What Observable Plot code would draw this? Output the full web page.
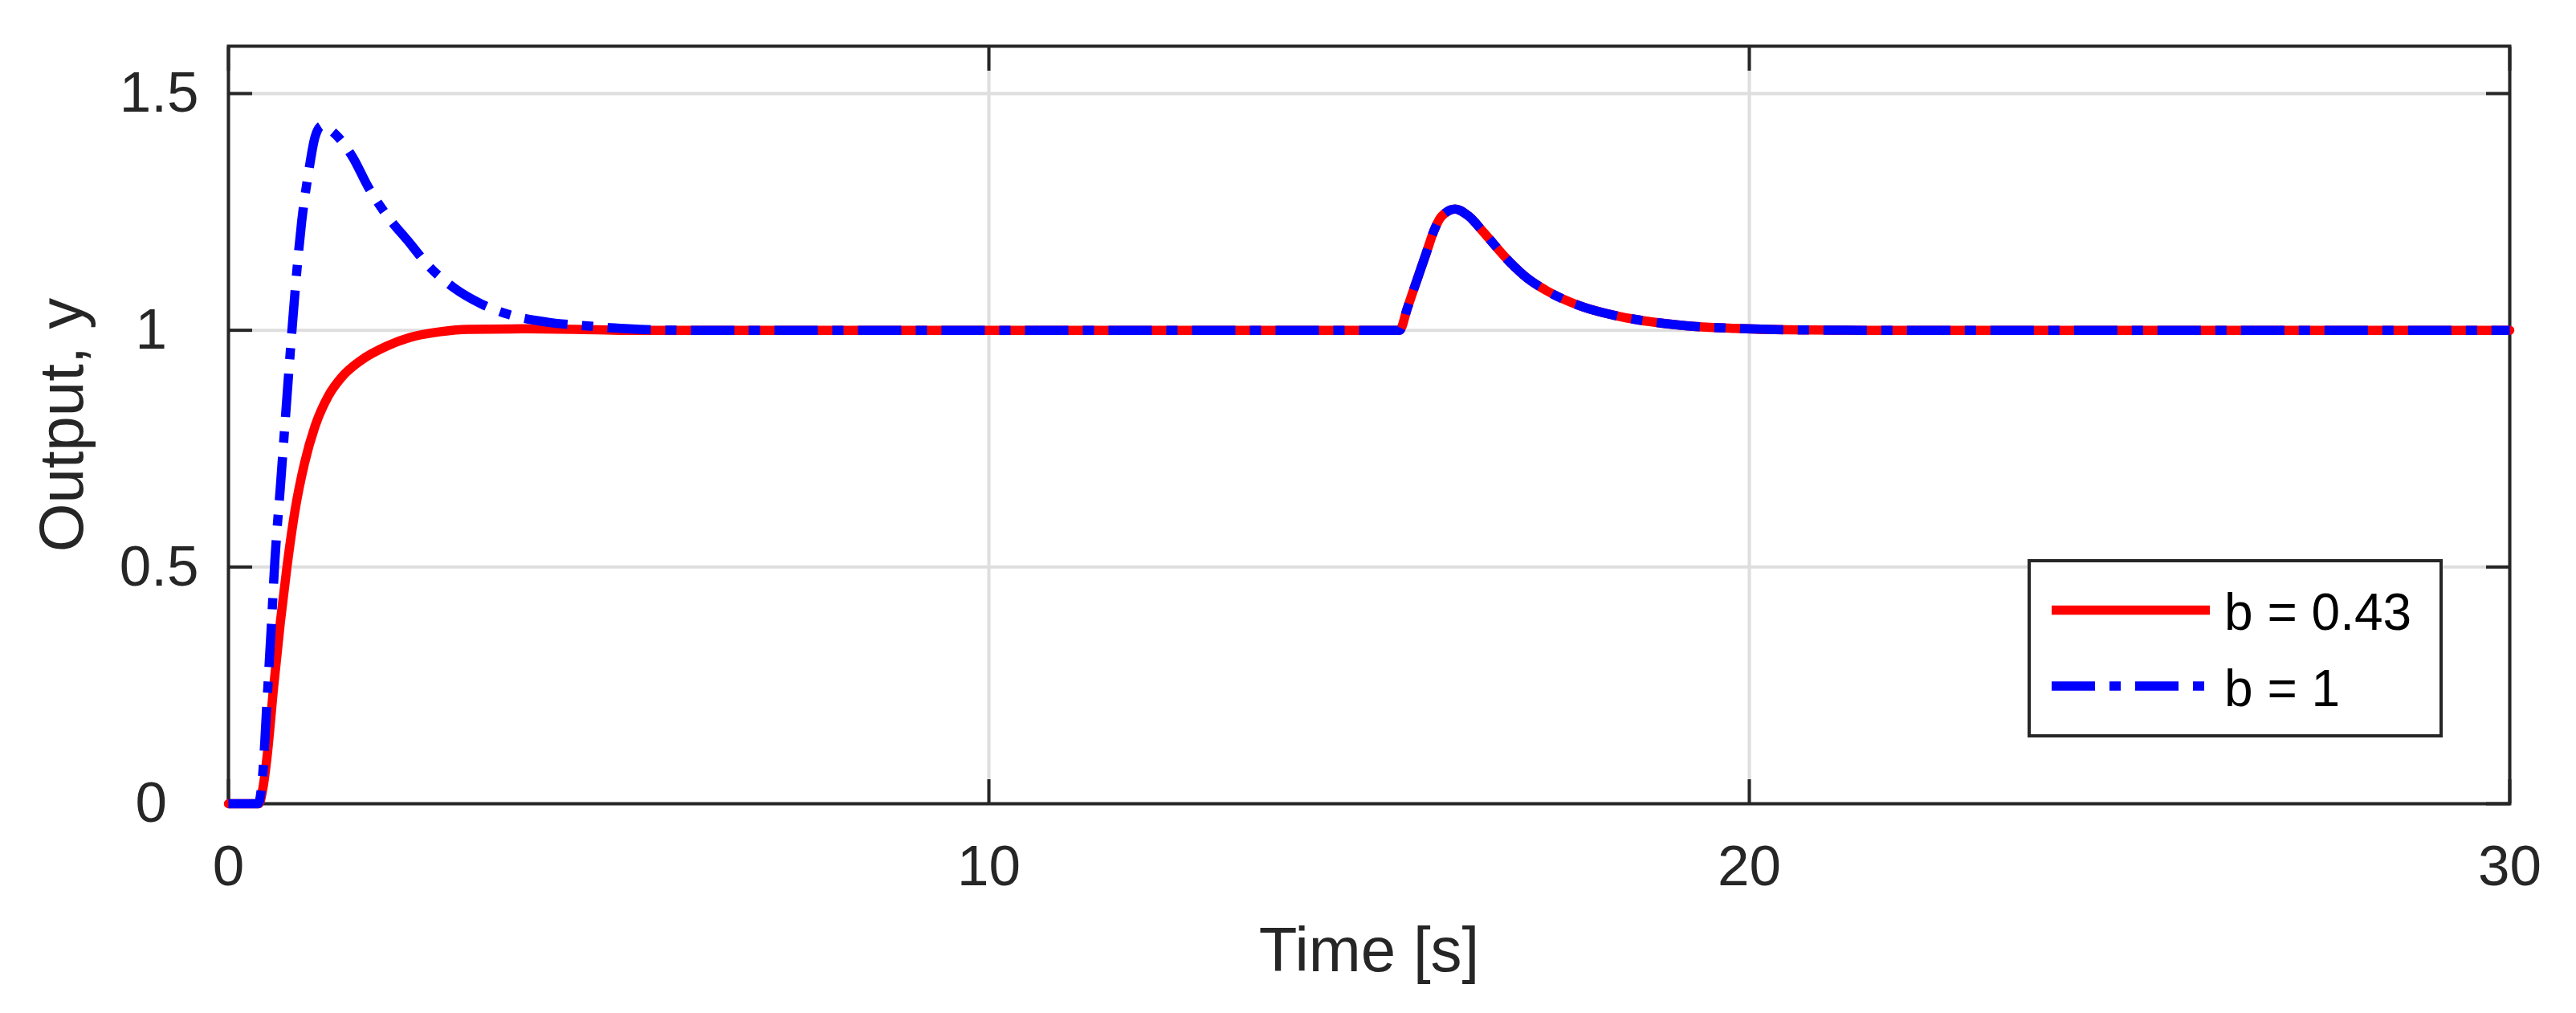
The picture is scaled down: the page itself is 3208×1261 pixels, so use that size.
<!DOCTYPE html>
<html>
<head>
<meta charset="utf-8">
<script src="https://cdn.jsdelivr.net/npm/d3@7"></script>
<script src="https://cdn.jsdelivr.net/npm/@observablehq/plot@0.6"></script>
<style>
  html, body { margin: 0; padding: 0; background: #ffffff; }
  #chart svg { display: block; }
</style>
</head>
<body>
<div id="chart"></div>
<script>
// ---- data ----
const seriesNames = ["b = 0.43", "b = 1"];
const seriesColors = ["#ff0000", "#0000ff"];

// start-up response, b = 0.43
const tRed = [0, 0.40, 0.45, 0.507, 0.594, 0.683, 0.771, 0.876, 1.0, 1.14, 1.316, 1.49, 1.74, 2.09, 2.44, 2.79, 3.15, 3.85, 4.55, 5.26, 6.0];
const yRed = [0, 0, 0.03, 0.098, 0.246, 0.384, 0.502, 0.620, 0.719, 0.798, 0.862, 0.901, 0.936, 0.967, 0.987, 0.997, 1.002, 1.003, 1.002, 1.0, 1.0];

// start-up response, b = 1
const tBlue = [0, 0.39, 0.454, 0.507, 0.56, 0.61, 0.683, 0.746, 0.823, 0.887, 0.964, 1.05, 1.14, 1.228, 1.386, 1.633, 1.84, 2.09, 2.37, 2.62, 2.97, 3.32, 3.67, 4.20, 4.73, 5.26, 6.0];
const yBlue = [0, 0, 0.069, 0.216, 0.364, 0.512, 0.67, 0.808, 0.975, 1.103, 1.231, 1.33, 1.409, 1.432, 1.417, 1.366, 1.302, 1.241, 1.187, 1.138, 1.089, 1.056, 1.034, 1.017, 1.009, 1.003, 1.0];

// load disturbance response (identical for both b)
const tBump = [15.40, 15.50, 15.59, 15.67, 15.76, 15.85, 15.95, 16.13, 16.31, 16.50, 16.85, 17.08, 17.33, 17.80, 18.30, 18.80, 19.30, 19.80, 20.5, 21.5, 30];
const yBump = [1.0, 1.045, 1.088, 1.125, 1.167, 1.209, 1.240, 1.256, 1.241, 1.208, 1.144, 1.110, 1.084, 1.050, 1.029, 1.016, 1.008, 1.004, 1.001, 1.0, 1.0];

const xTicks = [0, 10, 20, 30];
const xTickLabels = ["0", "10", "20", "30"];
const yTicks = [0, 0.5, 1, 1.5];
const yTickLabels = ["0", "0.5", "1", "1.5"];
const xLabel = "Time [s]";
const yLabel = "Output, y";

// ---- build series ----
const toPts = (ts, ys) => ts.map((t, i) => ({t, y: ys[i]}));
const redData = toPts(tRed, yRed).concat(toPts(tBump, yBump));
const blueData = toPts(tBlue, yBlue).concat(toPts(tBump, yBump));

const INK = "#262626";
const GRID = "#dedede";
const FONT = "'Liberation Sans', Arial, Helvetica, sans-serif";
const DASHDOT = "54,18,14,18";

const chart = Plot.plot({
  width: 3208,
  height: 1261,
  marginLeft: 284,
  marginRight: 83,
  marginTop: 57,
  marginBottom: 261,
  x: {domain: [0, 30]},
  y: {domain: [0, 1.6]},
  style: {fontFamily: FONT, fontSize: "71px", color: INK, background: "#ffffff"},
  marks: [
    Plot.gridX(xTicks, {stroke: GRID, strokeOpacity: 1, strokeWidth: 4}),
    Plot.gridY(yTicks, {stroke: GRID, strokeOpacity: 1, strokeWidth: 4}),
    Plot.frame({stroke: INK, strokeWidth: 4}),
    // inward tick marks on all four sides
    Plot.axisX(xTicks, {anchor: "bottom", tickSize: -30, tickFormat: () => "", label: null, stroke: INK, strokeWidth: 4}),
    Plot.axisX(xTicks, {anchor: "top", tickSize: -30, tickFormat: () => "", label: null, stroke: INK, strokeWidth: 4}),
    Plot.axisY(yTicks, {anchor: "left", tickSize: -30, tickFormat: () => "", label: null, stroke: INK, strokeWidth: 4}),
    Plot.axisY(yTicks, {anchor: "right", tickSize: -30, tickFormat: () => "", label: null, stroke: INK, strokeWidth: 4}),
    // tick labels
    Plot.axisX(xTicks, {anchor: "bottom", tickSize: 0, tickPadding: 51, label: null, fontSize: 71, fill: INK,
      tickFormat: d => xTickLabels[xTicks.indexOf(d)]}),
    Plot.axisY(yTicks, {anchor: "left", tickSize: 0, tickPadding: 37, label: null, fontSize: 71, fill: INK,
      tickFormat: d => yTickLabels[yTicks.indexOf(d)].padEnd(3, "\u00a0")}),
    // axis titles
    Plot.text([xLabel], {text: d => d, frameAnchor: "bottom", dy: 208, lineAnchor: "bottom", textAnchor: "middle", fontSize: 78, fill: INK}),
    Plot.text([yLabel], {text: d => d, frameAnchor: "left", dx: -182, rotate: -90, lineAnchor: "bottom", textAnchor: "middle", fontSize: 78, fill: INK}),
    // the two responses
    Plot.line(redData, {x: "t", y: "y", stroke: seriesColors[0], strokeWidth: 11.5, curve: "monotone-x", strokeLinejoin: "round"}),
    Plot.line(blueData, {x: "t", y: "y", stroke: seriesColors[1], strokeWidth: 11.5, curve: "monotone-x",
      strokeDasharray: DASHDOT, strokeLinecap: "butt", strokeLinejoin: "round"})
  ]
});

document.getElementById("chart").appendChild(chart);

// ---- legend (inside the axes, lower right) ----
const svg = d3.select(chart);
const lg = svg.append("g").attr("font-family", FONT).attr("text-anchor", "start");
lg.append("rect")
  .attr("x", 2527).attr("y", 698).attr("width", 513).attr("height", 218)
  .attr("fill", "#ffffff").attr("stroke", INK).attr("stroke-width", 4);
const rowY = [759.5, 854];
seriesNames.forEach((name, i) => {
  lg.append("line")
    .attr("x1", 2555).attr("x2", i === 0 ? 2752 : 2746)
    .attr("y1", rowY[i]).attr("y2", rowY[i])
    .attr("stroke", seriesColors[i]).attr("stroke-width", 11.5)
    .attr("stroke-dasharray", i === 0 ? null : DASHDOT);
  lg.append("text")
    .attr("x", 2770).attr("y", rowY[i] + 24.5)
    .attr("text-anchor", "start")
    .attr("font-size", 64).attr("fill", "#000000")
    .text(name);
});
</script>
</body>
</html>
